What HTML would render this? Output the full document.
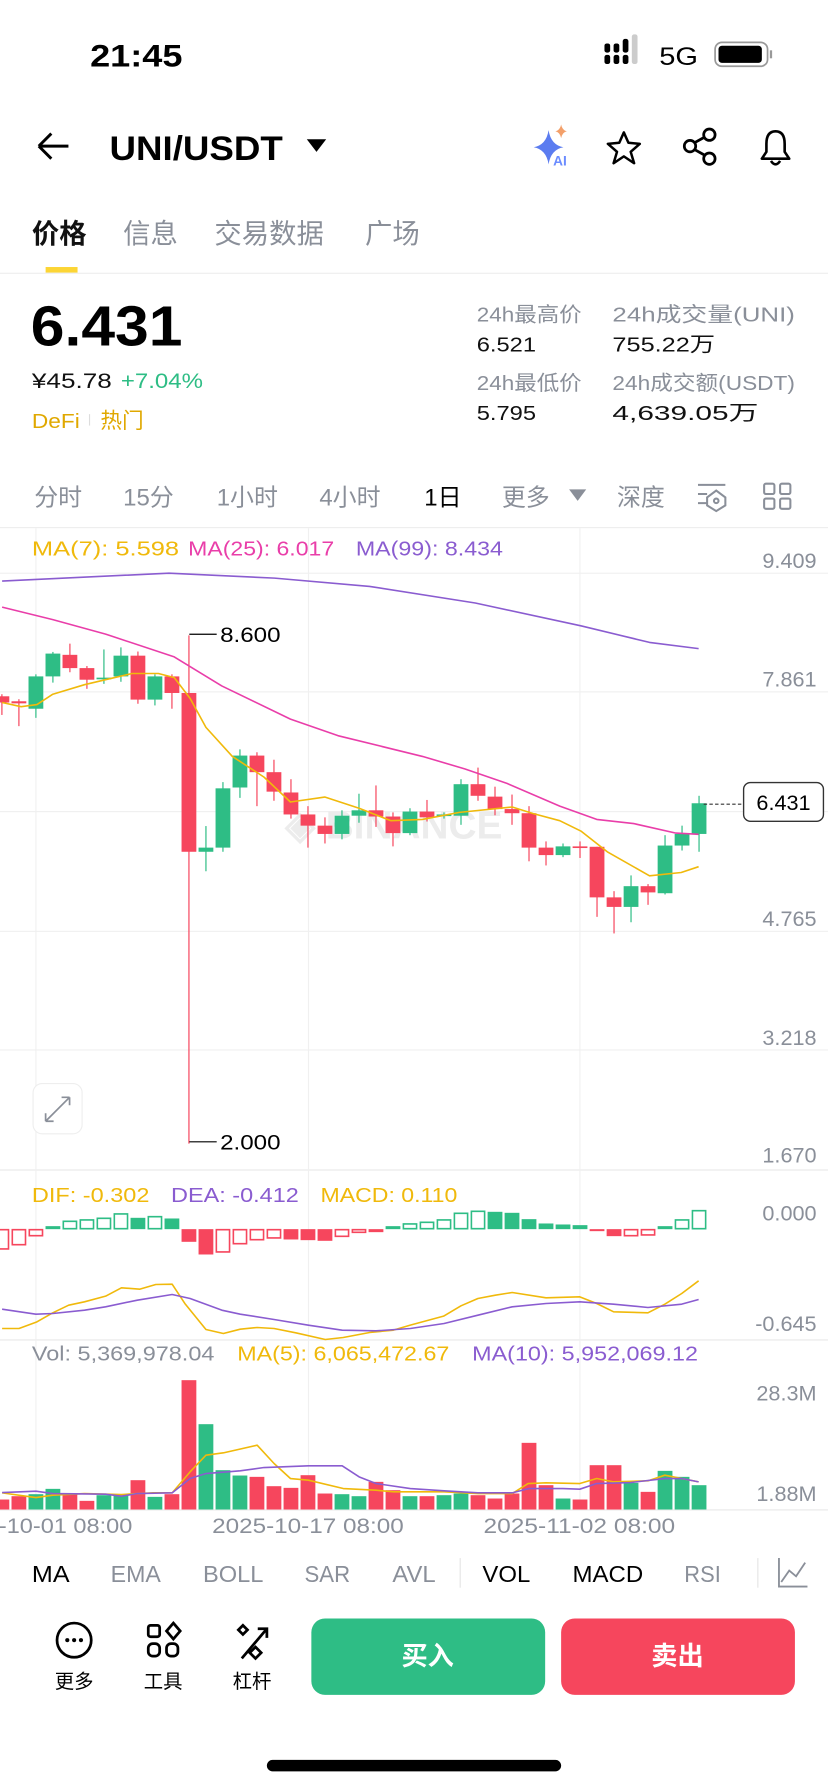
<!DOCTYPE html>
<html><head><meta charset="utf-8">
<style>
html,body{margin:0;padding:0;background:#fff;width:828px;height:1792px;overflow:hidden}
svg text{font-family:"Liberation Sans","Noto Sans CJK SC",sans-serif}
</style></head>
<body>
<svg id="root" width="828" height="1792" viewBox="0 0 726 1571" xmlns="http://www.w3.org/2000/svg">
<rect width="726" height="1571" fill="#fff"/>
<text x="79" y="58" font-size="28" font-weight="bold" fill="#000" textLength="81" lengthAdjust="spacingAndGlyphs">21:45</text>
<g fill="#000">
<rect x="530" y="48" width="5" height="8" rx="2"/><rect x="538" y="48" width="5" height="8" rx="2"/><rect x="546" y="48" width="5" height="8" rx="2"/>
<rect x="530" y="38" width="5" height="8" rx="2"/><rect x="538" y="38" width="5" height="8" rx="2"/><rect x="546" y="34" width="5" height="12" rx="2"/>
<rect x="554" y="30" width="5" height="26" rx="2" fill="#ccc"/>
</g>
<text x="578" y="57" font-size="22" fill="#000" textLength="34" lengthAdjust="spacingAndGlyphs">5G</text>
<rect x="627" y="37" width="46" height="21" rx="6" fill="none" stroke="#999" stroke-width="1.5"/>
<rect x="630" y="40" width="38" height="15" rx="3" fill="#000"/>
<rect x="675" y="44" width="2" height="7" fill="#999"/>
<path d="M34 128 H60 M34 128 L45 117 M34 128 L45 139" stroke="#000" stroke-width="2.6" fill="none"/>
<text x="96" y="140" font-size="30" font-weight="bold" fill="#000" textLength="152" lengthAdjust="spacingAndGlyphs">UNI/USDT</text>
<path d="M269 122 H286 L277.5 133 Z" fill="#000"/>
<path d="M481 114 Q483 127 494 129 Q483 131 481 144 Q479 131 468 129 Q479 127 481 114Z" fill="#5b7cf0"/>
<path d="M492 109 Q493 114 497 115 Q493 116 492 121 Q491 116 487 115 Q491 114 492 109Z" fill="#f3a06a"/>
<text x="485" y="145" font-size="12" font-weight="bold" fill="#6b8cff">AI</text>
<path d="M547 116 L551 125 L561 126 L553 133 L556 143 L547 137 L538 143 L541 133 L533 126 L543 125 Z" fill="none" stroke="#000" stroke-width="2.2" stroke-linejoin="round"/>
<g fill="none" stroke="#000" stroke-width="2.4"><circle cx="622" cy="118" r="5"/><circle cx="605" cy="128" r="5"/><circle cx="622" cy="139" r="5"/><path d="M609 125 L618 120 M609 131 L618 136"/></g>
<path d="M668 139 H692 L688 133 V126 Q688 115 680 115 Q672 115 672 126 V133 Z M676 141 Q680 147 684 141" fill="none" stroke="#000" stroke-width="2.3" stroke-linejoin="round"/>
<text x="28" y="213" font-size="24" font-weight="bold" fill="#111">价格</text>
<text x="108" y="213" font-size="24" fill="#8a8f99">信息</text>
<text x="188" y="213" font-size="24" fill="#8a8f99">交易数据</text>
<text x="320" y="213" font-size="24" fill="#8a8f99">广场</text>
<rect x="40" y="234" width="28" height="5" fill="#fcd535"/>
<rect x="0" y="239" width="726" height="1" fill="#eeeeee"/>
<text x="27" y="303" font-size="50" font-weight="bold" fill="#000" textLength="133" lengthAdjust="spacingAndGlyphs">6.431</text>
<text x="28" y="340" font-size="19" fill="#111" textLength="70" lengthAdjust="spacingAndGlyphs">¥45.78</text>
<text x="106" y="340" font-size="19" fill="#2ebd85" textLength="72" lengthAdjust="spacingAndGlyphs">+7.04%</text>
<text x="28" y="375" font-size="18" fill="#e0a800" textLength="42" lengthAdjust="spacingAndGlyphs">DeFi</text>
<rect x="78" y="363" width="1" height="10" fill="#ddd"/>
<text x="88" y="375" font-size="19" fill="#e0a800">热门</text>
<g font-size="18">
<text x="418" y="282" fill="#8a8f99" textLength="92" lengthAdjust="spacingAndGlyphs">24h最高价</text><text x="418" y="308" fill="#111" textLength="52" lengthAdjust="spacingAndGlyphs">6.521</text>
<text x="418" y="342" fill="#8a8f99" textLength="92" lengthAdjust="spacingAndGlyphs">24h最低价</text><text x="418" y="368" fill="#111" textLength="52" lengthAdjust="spacingAndGlyphs">5.795</text>
<text x="537" y="282" fill="#8a8f99" textLength="160" lengthAdjust="spacingAndGlyphs">24h成交量(UNI)</text><text x="537" y="308" fill="#111" textLength="90" lengthAdjust="spacingAndGlyphs">755.22万</text>
<text x="537" y="342" fill="#8a8f99" textLength="160" lengthAdjust="spacingAndGlyphs">24h成交额(USDT)</text><text x="537" y="368" fill="#111" textLength="128" lengthAdjust="spacingAndGlyphs">4,639.05万</text>
</g>
<g font-size="21" fill="#8a8f99">
<text x="30" y="443">分时</text><text x="108" y="443">15分</text><text x="190" y="443">1小时</text><text x="280" y="443">4小时</text>
<text x="372" y="443" fill="#000">1日</text><text x="440" y="443">更多</text><text x="541" y="443">深度</text>
</g>
<path d="M499 429 H514 L506.5 439 Z" fill="#8a8f99"/>
<g fill="none" stroke="#8a8f99" stroke-width="1.8"><path d="M612 425 H636 M612 433 H620 M612 441 H620"/><path d="M628 430 L636 436 V443 L628 448 L620 443 V436 Z"/><circle cx="628" cy="439" r="2"/>
<rect x="670" y="424" width="9" height="9" rx="1.5"/><rect x="684" y="424" width="9" height="9" rx="1.5"/><rect x="670" y="437" width="9" height="9" rx="1.5"/><rect x="684" y="437" width="9" height="9" rx="1.5"/></g>
<rect x="0" y="462" width="726" height="1" fill="#eeeeee"/>
<g fill="#f0f0f0">
<rect x="0" y="502" width="726" height="1"/><rect x="0" y="606" width="726" height="1"/><rect x="0" y="711" width="726" height="1"/>
<rect x="0" y="816" width="726" height="1"/><rect x="0" y="920" width="726" height="1"/><rect x="0" y="1025" width="726" height="1.5"/>
<rect x="0" y="1174" width="726" height="1.5"/><rect x="0" y="1323" width="726" height="1.5"/>
<rect x="31" y="463" width="1" height="860"/><rect x="270" y="463" width="1" height="860"/><rect x="508" y="463" width="1" height="860"/>
</g>
<text x="250" y="735" font-size="34" font-weight="bold" fill="#ececec">◈ BINANCE</text>
<g font-size="18">
<text x="28" y="487" fill="#f0b90b" textLength="129" lengthAdjust="spacingAndGlyphs">MA(7): 5.598</text>
<text x="165" y="487" fill="#e93ea9" textLength="128" lengthAdjust="spacingAndGlyphs">MA(25): 6.017</text>
<text x="312" y="487" fill="#8a5cd0" textLength="129" lengthAdjust="spacingAndGlyphs">MA(99): 8.434</text>
</g>
<g font-size="19" fill="#8a8f99" text-anchor="end">
<text x="716" y="498">9.409</text><text x="716" y="602">7.861</text><text x="716" y="812">4.765</text><text x="716" y="916">3.218</text><text x="716" y="1019">1.670</text>
<text x="716" y="1070">0.000</text><text x="716" y="1167">-0.645</text><text x="716" y="1228">28.3M</text><text x="716" y="1316">1.88M</text>
</g>
<svg id="pc" x="0" y="455.9" width="726" height="570" viewBox="0 0 1568 1568" preserveAspectRatio="none"></svg>
<svg id="mc" x="0" y="1017.1" width="726" height="315.7" viewBox="0 0 1568 1080" preserveAspectRatio="none"></svg>
<line x1="617" y1="705" x2="652" y2="705" stroke="#333" stroke-width="1" stroke-dasharray="3,2"/>
<rect x="652" y="686" width="70" height="34" rx="6" fill="#fff" stroke="#333" stroke-width="1.2"/>
<text x="687" y="710" font-size="19" fill="#000" text-anchor="middle">6.431</text>
<path d="M166 556 H190 M166 1001 H190" stroke="#000" stroke-width="1"/>
<text x="193" y="563" font-size="19" fill="#000" textLength="53" lengthAdjust="spacingAndGlyphs">8.600</text>
<text x="193" y="1008" font-size="19" fill="#000" textLength="53" lengthAdjust="spacingAndGlyphs">2.000</text>
<rect x="29" y="950" width="43" height="44" rx="8" fill="#fff" stroke="#eee"/>
<path d="M40 983 L61 962 M40 983 V976 M40 983 H47 M61 962 H54 M61 962 V969" stroke="#8a8f99" stroke-width="1.5" fill="none"/>
<g font-size="18">
<text x="28" y="1054" fill="#f0b90b" textLength="103" lengthAdjust="spacingAndGlyphs">DIF: -0.302</text>
<text x="150" y="1054" fill="#8a5cd0" textLength="112" lengthAdjust="spacingAndGlyphs">DEA: -0.412</text>
<text x="281" y="1054" fill="#f0b90b" textLength="120" lengthAdjust="spacingAndGlyphs">MACD: 0.110</text>
<text x="28" y="1193" fill="#8a8f99" textLength="160" lengthAdjust="spacingAndGlyphs">Vol: 5,369,978.04</text>
<text x="208" y="1193" fill="#f0b90b" textLength="186" lengthAdjust="spacingAndGlyphs">MA(5): 6,065,472.67</text>
<text x="414" y="1193" fill="#8a5cd0" textLength="198" lengthAdjust="spacingAndGlyphs">MA(10): 5,952,069.12</text>
</g>
<g font-size="19" fill="#8a8f99">
<text x="-1" y="1344" textLength="117" lengthAdjust="spacingAndGlyphs">-10-01 08:00</text>
<text x="186" y="1344" textLength="168" lengthAdjust="spacingAndGlyphs">2025-10-17 08:00</text>
<text x="424" y="1344" textLength="168" lengthAdjust="spacingAndGlyphs">2025-11-02 08:00</text>
</g>
<g font-size="20" fill="#8a8f99">
<text x="28" y="1387" fill="#000" textLength="33" lengthAdjust="spacingAndGlyphs">MA</text>
<text x="97" y="1387" textLength="44" lengthAdjust="spacingAndGlyphs">EMA</text>
<text x="178" y="1387" textLength="53" lengthAdjust="spacingAndGlyphs">BOLL</text>
<text x="267" y="1387" textLength="40" lengthAdjust="spacingAndGlyphs">SAR</text>
<text x="344" y="1387" textLength="38" lengthAdjust="spacingAndGlyphs">AVL</text>
<text x="423" y="1387" fill="#000" textLength="42" lengthAdjust="spacingAndGlyphs">VOL</text>
<text x="502" y="1387" fill="#000" textLength="62" lengthAdjust="spacingAndGlyphs">MACD</text>
<text x="600" y="1387" textLength="32" lengthAdjust="spacingAndGlyphs">RSI</text>
</g>
<rect x="403" y="1366" width="1" height="26" fill="#e5e5e5"/><rect x="664" y="1366" width="1" height="26" fill="#e5e5e5"/>
<path d="M683 1366 V1391 H708 M685 1387 L692 1377 L698 1382 L706 1370" stroke="#8a8f99" stroke-width="1.6" fill="none"/>
<circle cx="65" cy="1438" r="15" fill="none" stroke="#000" stroke-width="2.4"/>
<circle cx="59" cy="1438" r="1.8"/><circle cx="65" cy="1438" r="1.8"/><circle cx="71" cy="1438" r="1.8"/>
<g fill="none" stroke="#000" stroke-width="2.4"><rect x="130" y="1425" width="10" height="10" rx="2"/><path d="M152 1423 L158 1430 L152 1437 L146 1430 Z"/><rect x="130" y="1441" width="10" height="11" rx="4"/><rect x="146" y="1441" width="10" height="11" rx="4"/>
<path d="M212 1454 L234 1428 M226 1428 H234 V1436"/><path d="M213 1425 L217 1429 L213 1433 L209 1429 Z"/><path d="M224 1444 L229 1449 L224 1454 L219 1449 Z"/></g>
<g font-size="17" fill="#000" text-anchor="middle"><text x="65" y="1480">更多</text><text x="143" y="1480">工具</text><text x="221" y="1480">杠杆</text></g>
<rect x="273" y="1419" width="205" height="67" rx="12" fill="#2ebd85"/>
<rect x="492" y="1419" width="205" height="67" rx="12" fill="#f6465d"/>
<text x="375" y="1460" font-size="23" fill="#fff" text-anchor="middle" font-weight="bold">买入</text>
<text x="594" y="1460" font-size="23" fill="#fff" text-anchor="middle" font-weight="bold">卖出</text>
<rect x="234" y="1543" width="258" height="10" rx="5" fill="#000"/>
</svg>
<script>
var NS="http://www.w3.org/2000/svg",G="#2ebd85",R="#f6465d";
function el(p,t,a){var e=document.createElementNS(NS,t);for(var k in a)e.setAttribute(k,a[k]);p.appendChild(e);return e;}
function X(i){return 68+i*32.2;}
var pc=document.getElementById('pc'),mc=document.getElementById('mc');
var C=[[-2,R,425,440,420,470],[-1,R,437,442,432,497],[0,G,377,455,372,477],[1,G,322,377,318,392],[2,R,325,357,298,367],[3,R,357,385,352,407],[4,G,380,384,312,395],[5,G,327,377,307,390],[6,R,327,433,317,443],[7,G,377,433,372,447],[8,R,377,417,372,455],[9,R,417,800,278,1504],[10,G,790,800,738,847],[11,G,647,790,632,800],[12,G,568,645,553,670],[13,R,568,608,560,690],[14,R,608,655,578,677],[15,R,657,710,625,720],[16,R,710,737,690,790],[17,R,737,757,717,780],[18,G,713,757,700,770],[19,G,700,713,660,730],[20,R,700,715,640,740],[21,R,715,755,705,787],[22,G,703,755,695,760],[23,R,703,717,675,727],[24,G,710,714,705,720],[25,G,637,713,625,735],[26,R,637,665,597,677],[27,R,667,697,643,712],[28,R,697,707,662,735],[29,R,707,790,690,823],[30,R,790,808,775,833],[31,G,787,808,780,813],[32,R,787,790,775,815],[33,R,788,910,788,957],[34,R,910,933,895,997],[35,G,883,933,857,970],[36,R,883,898,878,928],[37,G,785,900,760,903],[38,G,757,785,737,797],[39,G,683,757,665,800]];
C.forEach(function(c){var x=X(c[0]);
el(pc,'line',{x1:x,x2:x,y1:c[4],y2:c[5],stroke:c[1],'stroke-width':1.2,'vector-effect':'non-scaling-stroke'});
el(pc,'rect',{x:x-14,y:c[2],width:28,height:Math.max(c[3]-c[2],4),fill:c[1]});});
function line(p,pts,col,w){el(p,'polyline',{points:pts.map(function(q){return q.join(',')}).join(' '),fill:'none',stroke:col,'stroke-width':w||1.6,'vector-effect':'non-scaling-stroke','stroke-linejoin':'round'});}
line(pc,[[4,147],[320,128],[520,140],[700,160],[900,200],[1100,255],[1230,295],[1323,310]],'#8a5cd0');
line(pc,[[4,210],[100,240],[200,275],[330,330],[420,400],[550,480],[640,520],[800,570],[880,600],[960,635],[1060,690],[1130,722],[1200,732],[1280,755],[1323,758]],'#e93ea9');
line(pc,[[4,440],[40,450],[70,445],[100,420],[160,397],[200,385],[250,370],[300,370],[330,380],[360,430],[390,500],[440,570],[500,620],[550,680],[615,668],[680,695],[740,725],[800,722],[870,705],[970,692],[1010,708],[1060,725],[1100,750],[1150,800],[1230,858],[1290,850],[1323,836]],'#f0b90b');
var H=[[-2,R,0,268],[-1,R,0,255],[0,R,0,228],[1,G,1,198],[2,G,0,182],[3,G,0,178],[4,G,0,173],[5,G,0,160],[6,G,1,173],[7,G,0,168],[8,G,1,175],[9,R,1,245],[10,R,1,283],[11,R,0,277],[12,R,0,252],[13,R,0,240],[14,R,0,235],[15,R,1,238],[16,R,1,240],[17,R,1,242],[18,R,0,230],[19,R,0,218],[20,R,1,216],[21,G,1,198],[22,G,0,190],[23,G,0,185],[24,G,0,178],[25,G,0,158],[26,G,0,152],[27,G,1,155],[28,G,1,158],[29,G,1,177],[30,G,1,190],[31,G,1,193],[32,G,1,195],[33,R,1,213],[34,R,1,228],[35,R,0,228],[36,R,0,226],[37,G,1,198],[38,G,0,178],[39,G,0,150]];
H.forEach(function(h){var x=X(h[0]),y0=Math.min(207,h[3]),y1=Math.max(207,h[3]);
if(h[2])el(mc,'rect',{x:x-14,y:y0,width:28,height:y1-y0,fill:h[1]});
else el(mc,'rect',{x:x-12.5,y:y0+1.5,width:25,height:Math.max(y1-y0-3,1),fill:'none',stroke:h[1],'stroke-width':1.6,'vector-effect':'non-scaling-stroke'});});
line(mc,[[4,505],[36,505],[70,485],[100,458],[130,435],[160,425],[200,408],[230,383],[265,387],[295,373],[326,372],[350,430],[390,508],[423,520],[455,507],[487,502],[519,505],[560,518],[616,538],[650,532],[700,517],[745,510],[777,495],[840,468],[873,437],[905,415],[938,405],[970,397],[1034,413],[1098,410],[1130,430],[1162,455],[1227,458],[1259,432],[1291,400],[1323,362]],'#f0b90b');
line(mc,[[4,447],[68,462],[100,460],[160,450],[200,440],[260,420],[326,403],[360,415],[420,450],[455,462],[519,478],[584,495],[648,510],[712,512],[777,505],[841,490],[905,465],[970,440],[1034,430],[1098,425],[1162,432],[1227,442],[1291,432],[1323,418]],'#8a5cd0');
var V=[[R,1018],[R,1008],[G,1002],[G,986],[R,1002],[R,1022],[G,1005],[G,1005],[R,960],[G,1010],[R,1002],[R,660],[G,792],[G,930],[G,946],[R,950],[R,978],[R,983],[R,945],[R,1000],[G,1002],[G,1008],[R,965],[R,990],[G,1008],[R,1008],[G,1005],[G,1000],[R,1005],[R,1015],[R,1000],[R,848],[R,975],[G,1015],[R,1018],[R,915],[R,915],[G,968],[R,995],[G,932],[G,950],[G,975]];
V.forEach(function(v,k){var x=X(k-2);el(mc,'rect',{x:x-14,y:v[1],width:28,height:1048-v[1],fill:v[0]});});
line(mc,[[4,998],[68,1012],[100,1005],[160,1000],[230,1003],[290,998],[326,998],[360,935],[390,885],[423,878],[487,855],[519,910],[550,955],[584,960],[650,985],[712,990],[745,995],[841,995],[905,1000],[970,1000],[1000,970],[1034,968],[1098,970],[1130,955],[1162,965],[1227,962],[1259,945],[1323,965]],'#f0b90b');
line(mc,[[4,997],[68,993],[100,1000],[200,1002],[230,1008],[260,1000],[326,998],[360,955],[390,940],[455,932],[500,922],[584,917],[648,917],[680,950],[712,970],[777,985],[841,992],[905,998],[970,998],[1002,985],[1066,985],[1098,987],[1130,970],[1194,967],[1259,955],[1291,955],[1323,965]],'#8a5cd0');
</script>
</body></html>
